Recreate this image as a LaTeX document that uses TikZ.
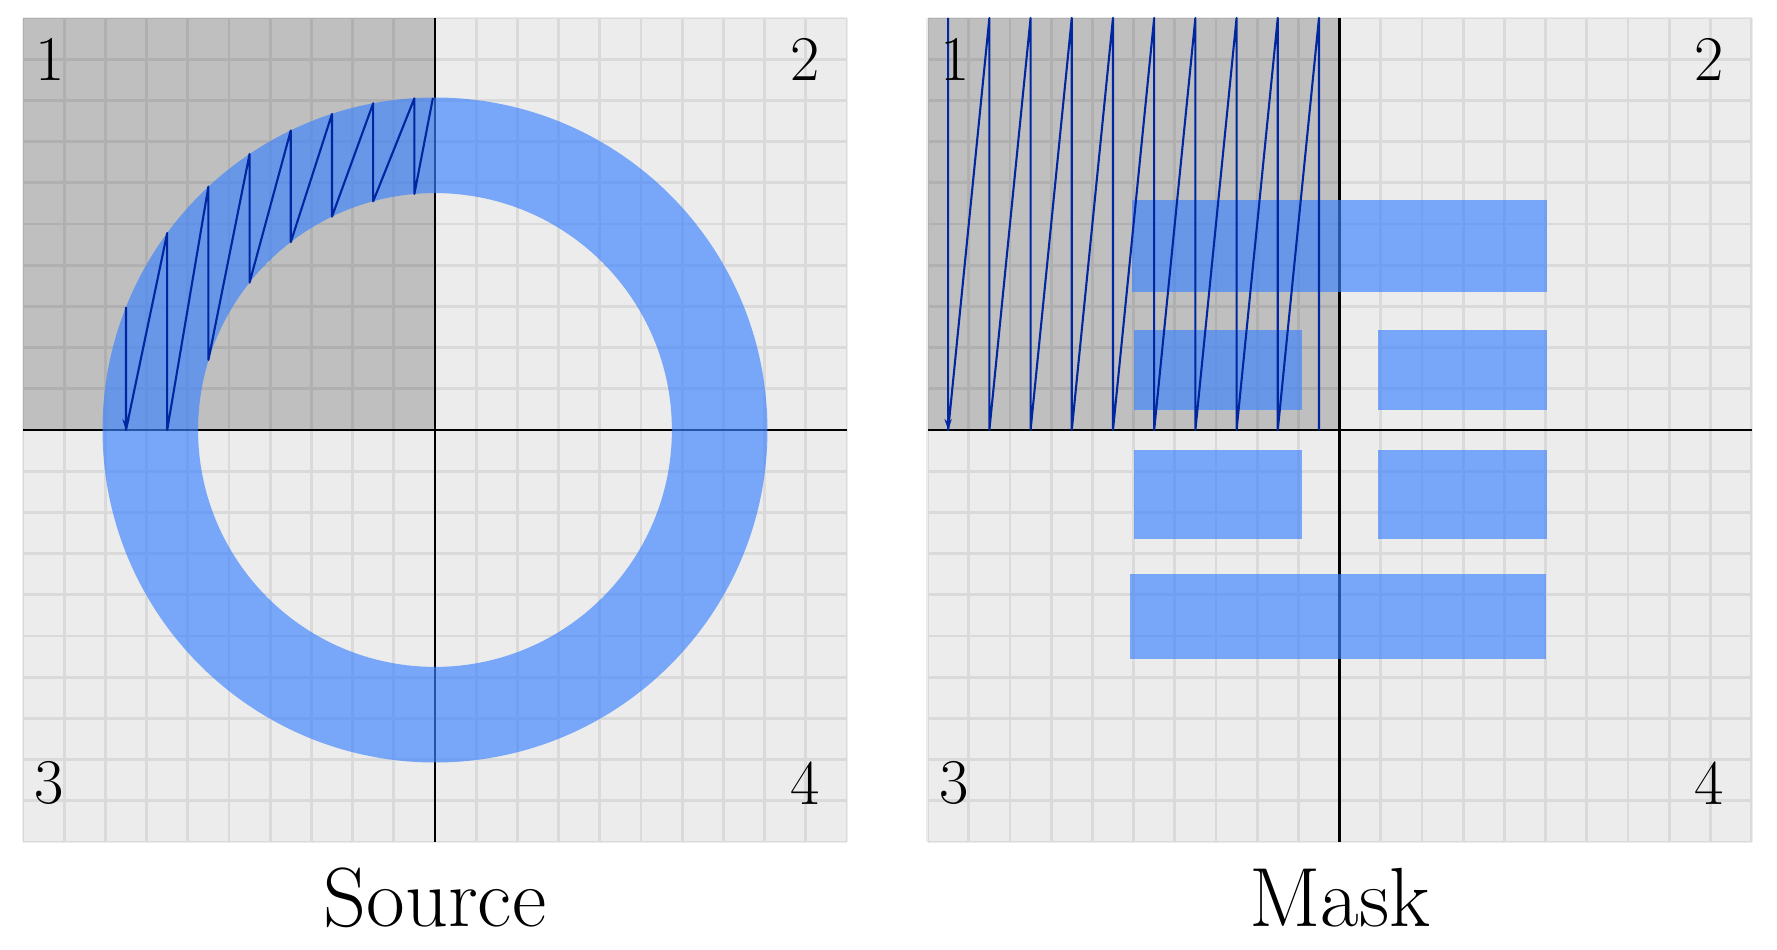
\documentclass[tikz,border=0pt]{standalone}
\usetikzlibrary{arrows.meta}
\definecolor{bgl}{HTML}{ECECEC}
\definecolor{bgd}{HTML}{BFBFBF}
\definecolor{ringb}{RGB}{58,130,255}
\definecolor{scanc}{RGB}{0,38,160}
\tikzset{
  gridln/.style={line width=1.9pt, draw=black, draw opacity=0.075},
  axisln/.style={line width=1.8pt, draw=black},
  shapefill/.style={fill=ringb, fill opacity=0.65},
  scanln/.style={line width=1.45pt, draw=scanc, line join=round},
  scanarr/.style={scanln, -{Stealth[length=7.5pt,width=5pt]}},
  quadlbl/.style={inner sep=0pt, font=\fontsize{44}{44}\selectfont},
  paneltitle/.style={inner sep=0pt, anchor=base, font=\fontsize{58}{58}\selectfont},
}
\begin{document}
\begin{tikzpicture}
\useasboundingbox[fill=white] (-10.558,-12.621) rectangle (32.573,10.437);
% ---------------- Source panel ----------------
\begin{scope}
  \fill[bgl] (-10,-10) rectangle (10,10);
  \fill[bgd] (-10,0) rectangle (0,10);
  \draw[gridln] (-10,-10) grid (10,10);
  \draw[axisln] (-10,0) -- (10,0) (0,-10) -- (0,10);
  \fill[shapefill, even odd rule] (0,0) circle (8.07) (0,0) circle (5.75);
  \coordinate (s0) at (-7.5,2.98);
  \coordinate (s1) at (-7.5,0);
  \draw[scanln] (s0) -- (s1) -- (-6.5,4.78) -- (-6.5,0) -- (-5.5,5.905) -- (-5.5,1.70)
     -- (-4.5,6.70) -- (-4.5,3.58) -- (-3.5,7.27) -- (-3.5,4.56) -- (-2.5,7.67) -- (-2.5,5.18)
     -- (-1.5,7.93) -- (-1.5,5.55) -- (-0.5,8.05) -- (-0.5,5.73) -- (-0.05,8.06);
  \draw[scanarr] (s0) -- (s1);
  \node[quadlbl] (sl1) at (-9.34,8.99) {1};
  \node[quadlbl] (sl2) at (8.98,8.99) {2};
  \node[quadlbl] (sl3) at (-9.36,-8.57) {3};
  \node[quadlbl] (sl4) at (8.98,-8.57) {4};
  \node[paneltitle] (stitle) at (0,-12.06) {Source};
\end{scope}
% ---------------- Mask panel ----------------
\begin{scope}[shift={(21.956,0)}]
  \fill[bgl] (-10,-10) rectangle (10,10);
  \fill[bgd] (-10,0) rectangle (0,10);
  \draw[gridln] (-10,-10) grid (10,10);
  \draw[axisln] (-10,0) -- (10,0) (0,-10) -- (0,10);
  \fill[shapefill] (-5.03,3.36) rectangle (5.04,5.58);
  \fill[shapefill] (-4.99,0.49) rectangle (-0.92,2.43);
  \fill[shapefill] (0.94,0.49) rectangle (5.04,2.43);
  \fill[shapefill] (-4.99,-2.65) rectangle (-0.92,-0.49);
  \fill[shapefill] (0.94,-2.65) rectangle (5.04,-0.49);
  \fill[shapefill] (-5.08,-5.56) rectangle (5.00,-3.50);
  \coordinate (m0) at (-9.5,10);
  \coordinate (m1) at (-9.5,0);
  \draw[scanln] (m0) -- (m1) -- (-8.5,10) -- (-8.5,0) -- (-7.5,10) -- (-7.5,0)
     -- (-6.5,10) -- (-6.5,0) -- (-5.5,10) -- (-5.5,0) -- (-4.5,10) -- (-4.5,0)
     -- (-3.5,10) -- (-3.5,0) -- (-2.5,10) -- (-2.5,0) -- (-1.5,10) -- (-1.5,0)
     -- (-0.5,10) -- (-0.5,0);
  \draw[scanarr] (m0) -- (m1);
  \node[quadlbl] (ml1) at (-9.34,8.99) {1};
  \node[quadlbl] (ml2) at (8.98,8.99) {2};
  \node[quadlbl] (ml3) at (-9.36,-8.57) {3};
  \node[quadlbl] (ml4) at (8.98,-8.57) {4};
  \node[paneltitle] (mtitle) at (0,-12.06) {Mask};
\end{scope}
\end{tikzpicture}
\end{document}
